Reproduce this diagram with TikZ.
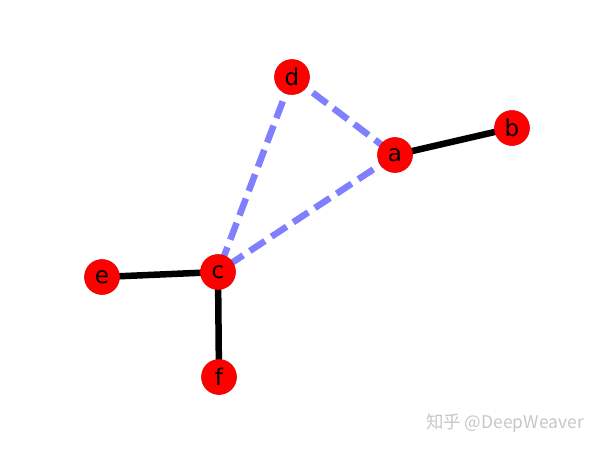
\documentclass[tikz,border=0pt]{standalone}
\usepackage{fontspec}
\setmainfont{DejaVu Sans}
\newfontfamily\cjk{Noto Sans CJK SC}
\definecolor{nodered}{RGB}{255,0,0}
\definecolor{dashblue}{RGB}{128,128,255}
\begin{document}
\begin{tikzpicture}[x=1pt,y=-1pt,
  vtx/.style={circle,fill=nodered,draw=nodered!90!black,line width=0.6pt,minimum size=35pt,inner sep=0pt,font=\fontsize{23}{23}\selectfont},
  solidedge/.style={line width=6.5pt,black},
  dashedge/.style={line width=6.5pt,dashboxcol,dash pattern=on 18pt off 8pt},
  dashboxcol/.style={color=dashblue}]
\useasboundingbox (0,0) rectangle (600,450);
\fill[white] (0,0) rectangle (600,450);
\coordinate (pd) at (292,77);
\coordinate (pa) at (395,155);
\coordinate (pb) at (512,128);
\coordinate (pc) at (218,272);
\coordinate (pe) at (102,277);
\coordinate (pf) at (219,377);
\draw[solidedge] (pa) -- (pb);
\draw[solidedge] (pc) -- (pe);
\draw[solidedge] (pc) -- (pf);
\draw[dashedge] (pd) -- (pa);
\draw[dashedge] (pd) -- (pc);
\draw[dashedge] (pa) -- (pc);
\node[vtx] (a) at (pa) {a};
\node[vtx] (b) at (pb) {b};
\node[vtx] (c) at (pc) {c};
\node[vtx] (d) at (pd) {d};
\node[vtx] (e) at (pe) {e};
\node[vtx] (f) at (pf) {f};
\node[text=black!22,font=\cjk\fontsize{17.5}{17.5}\selectfont] (wm) at (505,423) {知乎 @DeepWeaver};
\end{tikzpicture}
\end{document}
